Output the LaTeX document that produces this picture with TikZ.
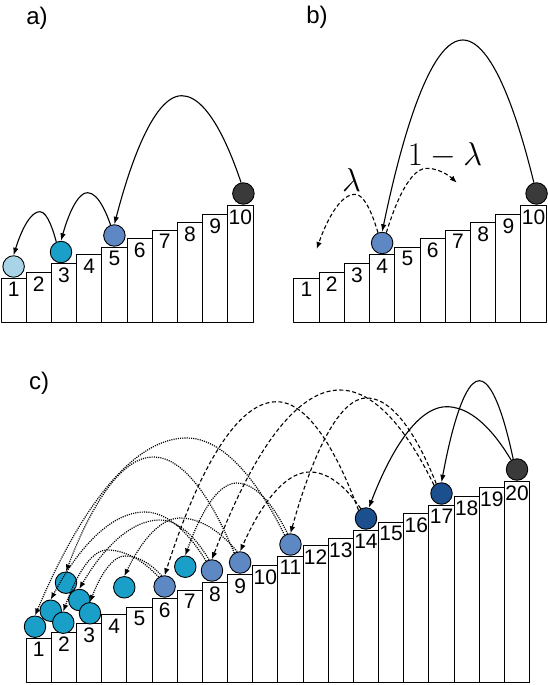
\RequirePackage{fix-cm}
\documentclass[tikz,border=0pt]{standalone}
\usepackage{fontspec}
\setmainfont{Liberation Sans}
\usetikzlibrary{arrows.meta,positioning}

\definecolor{lightball}{HTML}{A9D3E7}
\definecolor{cyanball}{HTML}{1A9FC9}
\definecolor{midball}{HTML}{5E88C3}
\definecolor{deepball}{HTML}{1C4F8D}
\definecolor{greyball}{HTML}{3A3A3A}

\tikzset{
  stair/.style={draw, line width=1pt, fill=white, inner sep=0pt, anchor=south west},
  num/.style={anchor=north, inner sep=4.5pt, font=\fontsize{21}{22}\selectfont},
  ball/.style={circle, draw, line width=0.9pt, inner sep=0pt, minimum size=21.5pt},
  hop/.style={line width=1.1pt, -{Latex[length=7.5pt,width=5.5pt]}},
  dashhop/.style={line width=1.1pt, dash pattern=on 4pt off 2.5pt, -{Latex[length=7pt,width=5.5pt]}},
  dothop/.style={line width=1.2pt, dash pattern=on 1.1pt off 1.1pt, -{Latex[length=7pt,width=5.5pt]}},
  panel/.style={font=\fontsize{24}{26}\selectfont},
  prob/.style={font=\fontsize{33}{36}\selectfont}
}

\begin{document}
\begin{tikzpicture}[x=1pt, y=-1pt, line join=round]
\useasboundingbox (0,0) rectangle (547,685);

% a) single chain of jumps
\node[panel] (la) at (37,18) {a)};
\foreach \n/\h in {1/44,2/50,3/58.5,4/67.5,5/75,6/84,7/92,8/100,9/108,10/117}{
  \node[stair, minimum width=25.2pt, minimum height=\h pt] (sa\n) at ({0.5+(\n-1)*25.2},322.7) {};
  \node[num] (na\n) at (sa\n.north) {\n};
}
\node[ball, fill=lightball, above=0pt of sa1] (pa1) {};
\node[ball, fill=cyanball, above=0pt of sa3, xshift=-3pt] (pa3) {};
\node[ball, fill=midball, above=0pt of sa5] (pa5) {};
\node[ball, fill=greyball, above=0pt of sa10, xshift=3pt] (pa10) {};
\draw[hop] (pa10.102) parabola bend (181.7,95.7) (pa5.north);
\draw[hop] (pa5.110) parabola bend (87.7,192.7) (pa3.north);
\draw[hop] (pa3.115) parabola bend (40,211.7) (pa1.north);

% b) split with probabilities
\node[panel] (lb) at (317,17) {b)};
\foreach \n/\h in {1/44,2/50,3/58.5,4/67.5,5/75,6/84,7/92,8/100,9/108,10/117}{
  \node[stair, minimum width=25.24pt, minimum height=\h pt] (sb\n) at ({293.3+(\n-1)*25.24},322.7) {};
  \node[num] (nb\n) at (sb\n.north) {\n};
}
\node[ball, fill=midball, above=0pt of sb4] (pb4) {};
\node[ball, fill=greyball, above=0pt of sb10, xshift=3pt] (pb10) {};
\coordinate (lamL) at (316.7,249);
\coordinate (lamR) at (456.7,182.7);
\draw[hop] (pb10.104) parabola bend (462.7,40) (pb4.north);
\draw[dashhop] (pb4.112) parabola bend (355,194.3) (lamL);
\draw[dashhop] (pb4.68) parabola bend (426.7,168.3) (lamR);
\node[prob] (lam) at (351.5,180) {$\lambda$};
\node[prob] (lamc) at (445,155) {$1-\lambda$};

% c) cascade
\node[panel] (lc) at (39,383) {c)};
\foreach \n/\h in {1/44,2/50,3/58.5,4/67.5,5/75,6/84,7/92,8/100,9/108,10/117,
                   11/126,12/137,13/144,14/152,15/160,16/169,17/177,18/186,19/194.5,20/201}{
  \node[stair, minimum width=25.17pt, minimum height=\h pt] (sc\n) at ({25.7+(\n-1)*25.17},682.7) {};
  \node[num] (nc\n) at (sc\n.north) {\n};
}
\node[ball, fill=midball, above=0pt of sc6] (pc6) {};
\node[ball, fill=midball, above=0pt of sc8, xshift=-3pt] (pc8) {};
\node[ball, fill=midball, above=0pt of sc9] (pc9) {};
\node[ball, fill=midball, above=0pt of sc11] (pc11) {};
\node[ball, fill=deepball, above=0pt of sc14] (pc14) {};
\node[ball, fill=deepball, above=0pt of sc17] (pc17) {};
\node[ball, fill=greyball, above=0pt of sc20] (pc20) {};
% landed balls
\node[ball, fill=cyanball] (q1) at (35,626.7) {};
\node[ball, fill=cyanball] (q2) at (50.7,610.7) {};
\node[ball, fill=cyanball] (q3) at (63.3,622.7) {};
\node[ball, fill=cyanball] (q4) at (66,582.7) {};
\node[ball, fill=cyanball] (q5) at (79.3,600) {};
\node[ball, fill=cyanball] (q6) at (90,613.3) {};
\node[ball, fill=cyanball] (q7) at (124.3,587.3) {};
\node[ball, fill=cyanball] (q8) at (185.3,566.7) {};

\draw[hop] (pc20.122) parabola bend (446.7,406.7) (pc14.75);
\draw[hop] (pc20.110) parabola bend (479.3,380.7) (pc17.north);

\draw[dashhop] (pc17.118) parabola bend (366.7,398) (pc11.north);
\draw[dashhop] (pc17.132) parabola bend (340,390) (pc8.north);
\draw[dashhop] (pc14.118) parabola bend (310,472) (pc9.north);
\draw[dashhop] (pc14.132) parabola bend (276.7,401.7) (pc6.north);

\draw[dothop] (pc11.122) parabola bend (186.7,438) (q1.north);
\draw[dothop] (pc11.105) parabola bend (236.7,483) (q8.north);
\draw[dothop] (pc9.122) parabola bend (153.3,457) (q4.north);
\draw[dothop] (pc9.105) parabola bend (180,518) (q7.north);
\draw[dothop] (pc8.122) parabola bend (145,512) (q2.north);
\draw[dothop] (pc8.105) parabola bend (160,520) (q5.north);
\draw[dothop] (pc6.122) parabola bend (107,550) (q3.north);
\draw[dothop] (pc6.105) parabola bend (125,556) (q6.north);
\end{tikzpicture}
\end{document}
